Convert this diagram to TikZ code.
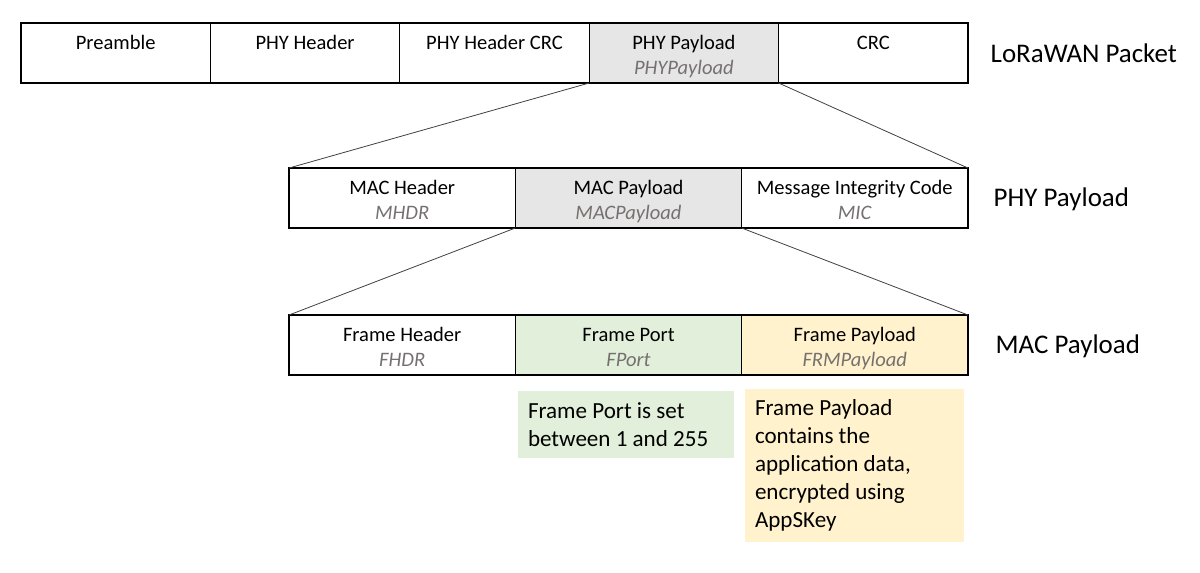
\documentclass[tikz,border=0pt]{standalone}
\usepackage{fontspec}
\setmainfont{Carlito}
\definecolor{cellgray}{HTML}{E7E6E6}
\definecolor{portgreen}{HTML}{E2EFDA}
\definecolor{payyellow}{HTML}{FFF2CC}
\definecolor{subgray}{HTML}{767171}
\definecolor{zoomline}{HTML}{404040}
\newcommand{\shortname}[1]{\textcolor{subgray}{\textit{#1}}}
\newcommand{\topstrut}{\rule{0pt}{19pt}}

\begin{document}
\begin{tikzpicture}[x=0.75pt, y=-0.75pt]

\tikzstyle{field} = [rectangle, draw=black, line width=0.9pt, outer sep=0pt, inner sep=0pt, minimum height=45pt, align=center, font=\fontsize{15.4}{18.5}\selectfont]
\tikzstyle{pkt} = [field, minimum width=142.05pt]
\tikzstyle{sub} = [field, minimum width=169.75pt]
\tikzstyle{layer} = [anchor=west, font=\fontsize{20.2}{24}\selectfont]
\tikzstyle{note} = [rectangle, outer sep=0pt, inner xsep=7.5pt, inner ysep=0pt, align=flush left, font=\fontsize{17.3}{21}\selectfont]
\tikzstyle{zoom} = [draw=zoomline, line width=0.6pt]

\useasboundingbox (0,0) rectangle (1200,572);

% LoRaWAN packet
\node[pkt] (pre) at (115.7, 53) {\topstrut Preamble\\\strut};
\node[pkt] (phyhdr) at (305.1, 53) {\topstrut PHY Header\\\strut};
\node[pkt] (hdrcrc) at (494.5, 53) {\topstrut PHY Header CRC\\\strut};
\node[pkt, fill=cellgray] (phypay) at (683.9, 53) {\topstrut PHY Payload\\\shortname{PHYPayload}\strut};
\node[pkt] (crc) at (873.3, 53) {\topstrut CRC\\\strut};
\node[layer] (pktlabel) at (986, 53) {LoRaWAN Packet};

% PHY payload
\node[sub] (mhdr) at (402.2, 198) {\topstrut MAC Header\\\shortname{MHDR}\strut};
\node[sub, fill=cellgray] (macpay) at (628.5, 198) {\topstrut MAC Payload\\\shortname{MACPayload}\strut};
\node[sub] (mic) at (854.8, 198) {\topstrut Message Integrity Code\\\shortname{MIC}\strut};
\node[layer] (phylabel) at (989, 199) {PHY Payload};

% MAC payload
\node[sub] (fhdr) at (402.2, 345) {\topstrut Frame Header\\\shortname{FHDR}\strut};
\node[sub, fill=portgreen] (fport) at (628.5, 345) {\topstrut Frame Port\\\shortname{FPort}\strut};
\node[sub, fill=payyellow] (frmpay) at (854.8, 345) {\topstrut Frame Payload\\\shortname{FRMPayload}\strut};
\node[layer] (maclabel) at (991, 346) {MAC Payload};

% zoom lines
\draw[zoom] (phypay.south west) -- (mhdr.north west);
\draw[zoom] (phypay.south east) -- (mic.north east);
\draw[zoom] (macpay.south west) -- (fhdr.north west);
\draw[zoom] (macpay.south east) -- (frmpay.north east);

% notes
\node[note, fill=portgreen, text width=147pt, minimum height=50.25pt] (portnote) at (626, 424.5) {Frame Port is set\\between 1 and 255};
\node[note, fill=payyellow, text width=149.25pt, minimum height=114.75pt] (paynote) at (854.5, 465.5) {Frame Payload\\contains the\\application data,\\encrypted using\\AppSKey};

\end{tikzpicture}
\end{document}
